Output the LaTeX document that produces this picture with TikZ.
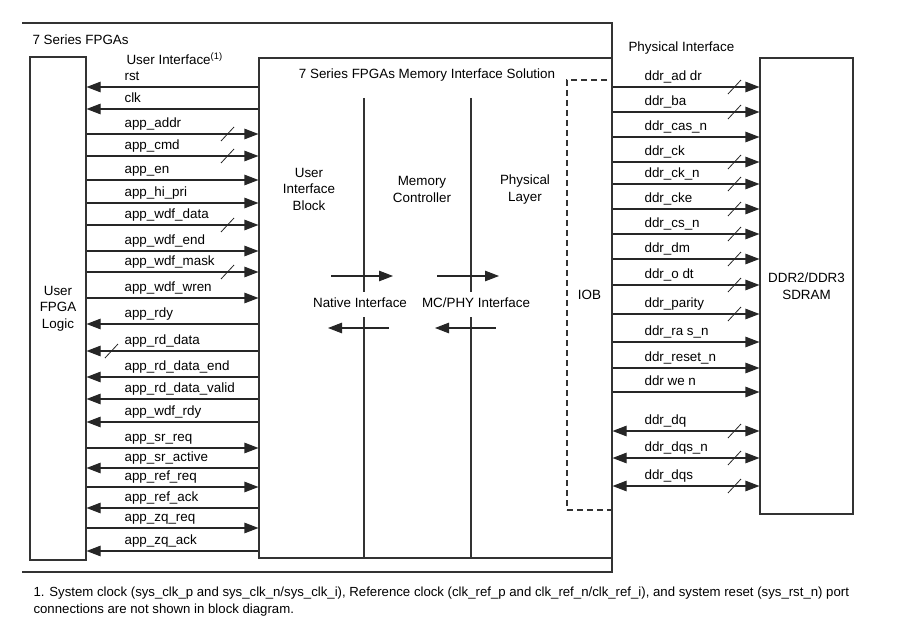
\documentclass[tikz,border=0pt]{standalone}
\usepackage{fontspec}
\setmainfont{Liberation Sans}
\usetikzlibrary{arrows.meta,positioning,decorations.markings}
\newcommand\lbl{\fontsize{13.4}{16.5}\selectfont}

\begin{document}
\begin{tikzpicture}[
  x=1pt, y=-1pt,
  line width=1.1pt,
  >={Triangle[length=14pt,width=10.5pt]},
  box/.style={rectangle, draw=black!80, inner sep=0pt, align=center, font=\lbl},
  sig/.style={anchor=south west, text depth=0pt, inner xsep=0pt, inner ysep=5.5pt, font=\lbl},
  wire/.style={draw=black!85},
  bus/.style={postaction={decorate}, decoration={markings, mark=at position #1 with {\draw[-, line width=0.8pt] (-6.5pt,-7pt) -- (6.5pt,7pt);}}},
  title/.style={font=\lbl, align=center, inner sep=0pt}
]
  \useasboundingbox (0,0) rectangle (897,631);

  % FPGA outline (open on the left)
  \draw[black!80] (22,23) -- (612,23) -- (612,572) -- (22,572);
  \node[title, anchor=west] (fpga) at (32,40) {7 Series FPGAs};

  % blocks
  \node[box, dash pattern=on 6pt off 4pt, minimum width=45pt, minimum height=430pt] (iob) at (589.5,295) {IOB};
  \node[box, minimum width=56pt, minimum height=503pt] (ufl) at (58,308.5) {User\\FPGA\\Logic};
  \node[box, minimum width=353pt, minimum height=500pt] (mis) at (435.5,308) {};
  \node[box, minimum width=93pt, minimum height=456pt] (sdram) at (806.5,286) {DDR2/DDR3\\SDRAM};

  \node[title] (mistitle) at (427,75) {7 Series FPGAs Memory Interface Solution};
  \node[title] (uib) at (309,189) {User\\Interface\\Block};
  \node[title] (mc) at (422,189.5) {Memory\\Controller};
  \node[title] (phy) at (525,189.5) {Physical\\Layer};
  \node[title, anchor=west] (uihead) at (126,59) {User Interface\textsuperscript{(1)}};
  \node[title, anchor=west] (pihead) at (628,48) {Physical Interface};

  % internal interfaces
  \node[title] (ni) at (360,303) {Native Interface};
  \node[title] (mcphy) at (476,303) {MC/PHY Interface};
  \draw[black!80] (364,98) -- (364,292) (364,317) -- (mis.south -| 364,0);
  \draw[black!80] (471,98) -- (471,292) (471,317) -- (mis.south -| 471,0);
  \draw[wire, ->] (331,276) -- (393,276);
  \draw[wire, <-] (328,328) -- (389,328);
  \draw[wire, ->] (437,276) -- (499,276);
  \draw[wire, <-] (435,328) -- (496,328);

  % user interface signals
  \node[sig] (rst) at (124,87) {rst};
  \draw[wire, <-] (ufl.east |- rst.south) -- (mis.west |- rst.south);
  \node[sig] (clk) at (124,109) {clk};
  \draw[wire, <-] (ufl.east |- clk.south) -- (mis.west |- clk.south);
  \node[sig] (addr) at (124,134) {app\_addr};
  \draw[wire, ->, bus=.82] (ufl.east |- addr.south) -- (mis.west |- addr.south);
  \node[sig] (cmd) at (124,156) {app\_cmd};
  \draw[wire, ->, bus=.82] (ufl.east |- cmd.south) -- (mis.west |- cmd.south);
  \node[sig] (en) at (124,180) {app\_en};
  \draw[wire, ->] (ufl.east |- en.south) -- (mis.west |- en.south);
  \node[sig] (hipri) at (124,203) {app\_hi\_pri};
  \draw[wire, ->] (ufl.east |- hipri.south) -- (mis.west |- hipri.south);
  \node[sig] (wdfdata) at (124,225) {app\_wdf\_data};
  \draw[wire, ->, bus=.82] (ufl.east |- wdfdata.south) -- (mis.west |- wdfdata.south);
  \node[sig] (wdfend) at (124,251) {app\_wdf\_end};
  \draw[wire, ->] (ufl.east |- wdfend.south) -- (mis.west |- wdfend.south);
  \node[sig] (wdfmask) at (124,272) {app\_wdf\_mask};
  \draw[wire, ->, bus=.82] (ufl.east |- wdfmask.south) -- (mis.west |- wdfmask.south);
  \node[sig] (wdfwren) at (124,298) {app\_wdf\_wren};
  \draw[wire, ->] (ufl.east |- wdfwren.south) -- (mis.west |- wdfwren.south);
  \node[sig] (rdy) at (124,324) {app\_rdy};
  \draw[wire, <-] (ufl.east |- rdy.south) -- (mis.west |- rdy.south);
  \node[sig] (rddata) at (124,351) {app\_rd\_data};
  \draw[wire, <-, bus=.145] (ufl.east |- rddata.south) -- (mis.west |- rddata.south);
  \node[sig] (rdend) at (124,377) {app\_rd\_data\_end};
  \draw[wire, <-] (ufl.east |- rdend.south) -- (mis.west |- rdend.south);
  \node[sig] (rdvalid) at (124,399) {app\_rd\_data\_valid};
  \draw[wire, <-] (ufl.east |- rdvalid.south) -- (mis.west |- rdvalid.south);
  \node[sig] (wdfrdy) at (124,422) {app\_wdf\_rdy};
  \draw[wire, <-] (ufl.east |- wdfrdy.south) -- (mis.west |- wdfrdy.south);
  \node[sig] (srreq) at (124,448) {app\_sr\_req};
  \draw[wire, ->] (ufl.east |- srreq.south) -- (mis.west |- srreq.south);
  \node[sig] (sractive) at (124,468) {app\_sr\_active};
  \draw[wire, <-] (ufl.east |- sractive.south) -- (mis.west |- sractive.south);
  \node[sig] (refreq) at (124,487) {app\_ref\_req};
  \draw[wire, ->] (ufl.east |- refreq.south) -- (mis.west |- refreq.south);
  \node[sig] (refack) at (124,508) {app\_ref\_ack};
  \draw[wire, <-] (ufl.east |- refack.south) -- (mis.west |- refack.south);
  \node[sig] (zqreq) at (124,528) {app\_zq\_req};
  \draw[wire, ->] (ufl.east |- zqreq.south) -- (mis.west |- zqreq.south);
  \node[sig] (zqack) at (124,551) {app\_zq\_ack};
  \draw[wire, <-] (ufl.east |- zqack.south) -- (mis.west |- zqack.south);

  % physical interface signals
  \node[sig] (daddr) at (644,87) {ddr\_ad dr};
  \draw[wire, ->, bus=.83] (mis.east |- daddr.south) -- (sdram.west |- daddr.south);
  \node[sig] (dba) at (644,112) {ddr\_ba};
  \draw[wire, ->, bus=.83] (mis.east |- dba.south) -- (sdram.west |- dba.south);
  \node[sig] (dcas) at (644,137) {ddr\_cas\_n};
  \draw[wire, ->] (mis.east |- dcas.south) -- (sdram.west |- dcas.south);
  \node[sig] (dck) at (644,162) {ddr\_ck};
  \draw[wire, ->, bus=.83] (mis.east |- dck.south) -- (sdram.west |- dck.south);
  \node[sig] (dckn) at (644,184) {ddr\_ck\_n};
  \draw[wire, ->, bus=.83] (mis.east |- dckn.south) -- (sdram.west |- dckn.south);
  \node[sig] (dcke) at (644,209) {ddr\_cke};
  \draw[wire, ->, bus=.83] (mis.east |- dcke.south) -- (sdram.west |- dcke.south);
  \node[sig] (dcs) at (644,234) {ddr\_cs\_n};
  \draw[wire, ->, bus=.83] (mis.east |- dcs.south) -- (sdram.west |- dcs.south);
  \node[sig] (ddm) at (644,259) {ddr\_dm};
  \draw[wire, ->, bus=.83] (mis.east |- ddm.south) -- (sdram.west |- ddm.south);
  \node[sig] (dodt) at (644,285) {ddr\_o dt};
  \draw[wire, ->, bus=.83] (mis.east |- dodt.south) -- (sdram.west |- dodt.south);
  \node[sig] (dpar) at (644,314) {ddr\_parity};
  \draw[wire, ->, bus=.83] (mis.east |- dpar.south) -- (sdram.west |- dpar.south);
  \node[sig] (dras) at (644,342) {ddr\_ra s\_n};
  \draw[wire, ->] (mis.east |- dras.south) -- (sdram.west |- dras.south);
  \node[sig] (dreset) at (644,368) {ddr\_reset\_n};
  \draw[wire, ->] (mis.east |- dreset.south) -- (sdram.west |- dreset.south);
  \node[sig] (dwe) at (644,392) {ddr we n};
  \draw[wire, ->] (mis.east |- dwe.south) -- (sdram.west |- dwe.south);
  \node[sig] (ddq) at (644,431) {ddr\_dq};
  \draw[wire, <->, bus=.83] (mis.east |- ddq.south) -- (sdram.west |- ddq.south);
  \node[sig] (ddqsn) at (644,458) {ddr\_dqs\_n};
  \draw[wire, <->, bus=.83] (mis.east |- ddqsn.south) -- (sdram.west |- ddqsn.south);
  \node[sig] (ddqs) at (644,486) {ddr\_dqs};
  \draw[wire, <->, bus=.83] (mis.east |- ddqs.south) -- (sdram.west |- ddqs.south);

  % footnote
  \node[anchor=north west, align=left, inner sep=0pt, font=\fontsize{13.2}{17}\selectfont] (note) at (33,586)
    {1. System clock (sys\_clk\_p and sys\_clk\_n/sys\_clk\_i), Reference clock (clk\_ref\_p and clk\_ref\_n/clk\_ref\_i), and system reset (sys\_rst\_n) port\\
     connections are not shown in block diagram.};
\end{tikzpicture}
\end{document}
